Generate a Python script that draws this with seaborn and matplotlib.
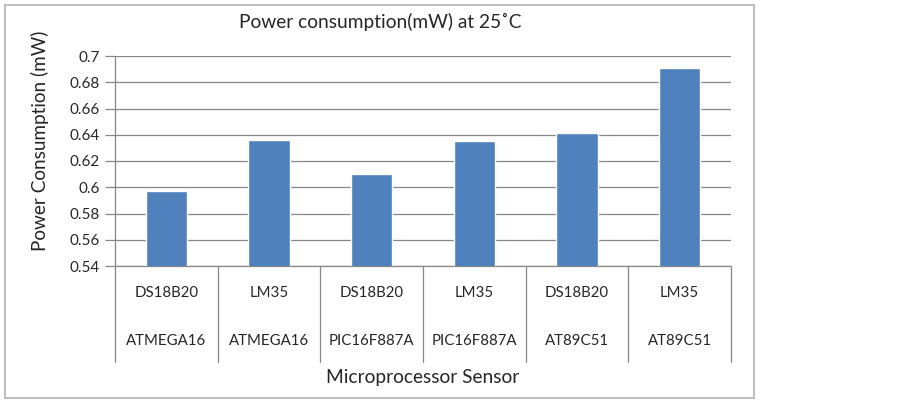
import matplotlib.pyplot as plt
import matplotlib.transforms as mtransforms
import matplotlib.patches as mpatches
import pandas as pd
import seaborn as sns

sensors = ['DS18B20', 'LM35', 'DS18B20', 'LM35', 'DS18B20', 'LM35']
processors = ['ATMEGA16', 'ATMEGA16', 'PIC16F887A', 'PIC16F887A', 'AT89C51', 'AT89C51']
power = [0.597, 0.636, 0.610, 0.635, 0.641, 0.691]
y_ticks = [0.54, 0.56, 0.58, 0.6, 0.62, 0.64, 0.66, 0.68, 0.7]

df = pd.DataFrame({'group': [s + '\n' + p for s, p in zip(sensors, processors)],
                   'power': power})

sns.set_style('white')
plt.rcParams['font.family'] = ['Lato', 'DejaVu Sans']

fig = plt.figure(figsize=(9.03, 4.03), dpi=100)
ax = fig.add_axes([115 / 903, 137 / 403, 616 / 903, 210 / 403])

sns.barplot(data=df, x='group', y='power', color='#4F81BD', width=0.4,
            saturation=1, ax=ax, zorder=3)

ax.set_ylim(0.54, 0.7)
ax.set_yticks(y_ticks)
ax.set_yticklabels([f'{t:g}' for t in y_ticks], fontsize=11)
ax.set_xlim(-0.5, len(sensors) - 0.5)
ax.set_xticks([])
ax.set_xlabel('')
ax.set_ylabel('')
ax.grid(axis='y', color='#878787', linewidth=0.9, zorder=0)
ax.tick_params(axis='y', length=7, width=0.9, color='#878787', left=True, pad=4)
for side in ['top', 'right']:
    ax.spines[side].set_visible(False)
for side in ['left', 'bottom']:
    ax.spines[side].set_color('#878787')
    ax.spines[side].set_linewidth(0.9)

# multi-level category axis
trans = mtransforms.blended_transform_factory(ax.transData, ax.transAxes)
for i in range(len(sensors) + 1):
    ax.plot([i - 0.5, i - 0.5], [0, -0.455], transform=trans, color='#878787',
            linewidth=0.9, clip_on=False)
for i, (s, p) in enumerate(zip(sensors, processors)):
    ax.text(i, -0.128, s, transform=trans, ha='center', va='center', fontsize=10.8)
    ax.text(i, -0.357, p, transform=trans, ha='center', va='center', fontsize=10.8)

fig.text(380 / 903, 1 - 22 / 403, 'Power consumption(mW) at 25˚C', ha='center',
         va='center', fontsize=13.8)
fig.text(423 / 903, 1 - 378 / 403, 'Microprocessor Sensor', ha='center',
         va='center', fontsize=13.8)
fig.text(40 / 903, 1 - 141 / 403, 'Power Consumption (mW)', ha='center',
         va='center', rotation=90, fontsize=13.6)

fig.patches.append(mpatches.Rectangle((5 / 903, 5 / 403), 749 / 903, 393 / 403,
                                      transform=fig.transFigure, fill=False,
                                      edgecolor='#BFBFBF', linewidth=1.5))

fig.savefig('out.png', dpi=100)
